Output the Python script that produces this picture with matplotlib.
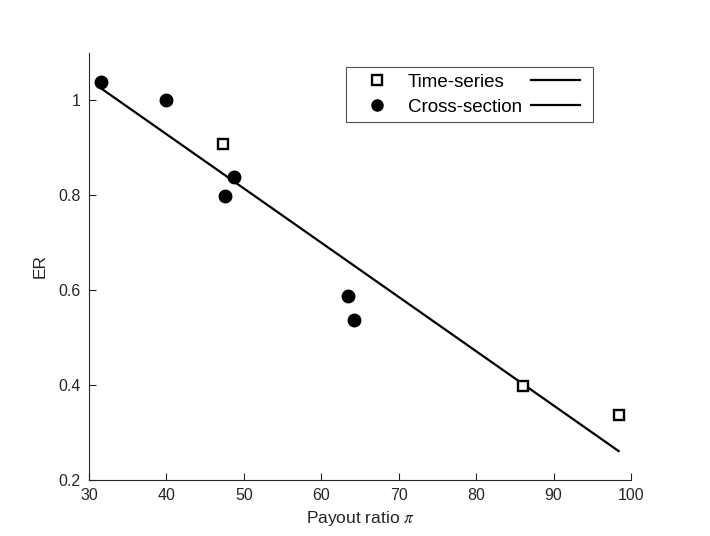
import matplotlib
matplotlib.use("Agg")
import matplotlib.pyplot as plt
from matplotlib.lines import Line2D

# Time-series observations (payout ratio, ER)
ts_x = [47.3, 86.1, 98.4]
ts_y = [0.909, 0.399, 0.338]

# Cross-section observations
cs_x = [31.6, 39.9, 47.5, 48.7, 63.4, 64.2]
cs_y = [1.039, 1.000, 0.799, 0.839, 0.588, 0.538]

# Fitted line endpoints
fit_x = [31.6, 98.4]
fit_y = [1.025, 0.261]

xticks = [30, 40, 50, 60, 70, 80, 90, 100]
yticks = [0.2, 0.4, 0.6, 0.8, 1.0]
yticklabels = ["0.2", "0.4", "0.6", "0.8", "1"]

plt.rcParams["font.family"] = ["Liberation Sans", "DejaVu Sans"]
plt.rcParams["mathtext.fontset"] = "stix"
AX = "#262626"

fig = plt.figure(figsize=(7.10, 5.36), dpi=100)
ax = fig.add_axes([89 / 710, 56 / 536, 542 / 710, 427 / 536])

ax.plot(fit_x, fit_y, color="black", lw=1.6, zorder=2)
ax.plot(ts_x, ts_y, ls="none", marker="s", ms=7.5, mfc="white", mec="black",
        mew=1.7, zorder=3)
ax.plot(cs_x, cs_y, ls="none", marker="o", ms=9, mfc="black", mec="black",
        zorder=3)

ax.set_xlim(30, 100)
ax.set_ylim(0.2, 1.1)
ax.set_xticks(xticks)
ax.set_yticks(yticks)
ax.set_yticklabels(yticklabels)
for s in ("top", "right"):
    ax.spines[s].set_visible(False)
for s in ("left", "bottom"):
    ax.spines[s].set_color(AX)
    ax.spines[s].set_linewidth(0.8)
ax.tick_params(direction="in", length=5, width=0.8, colors=AX, labelsize=11.5,
               pad=6)

ax.set_xlabel("Payout ratio $\\pi$", fontsize=12.5, color=AX, labelpad=4)
ax.set_ylabel("ER", fontsize=12.5, color=AX, labelpad=8)

handles = [
    Line2D([], [], ls="none", marker="s", ms=7, mfc="white", mec="black", mew=1.7),
    Line2D([], [], ls="none", marker="o", ms=8, mfc="black", mec="black"),
    Line2D([], [], color="black", lw=1.6),
    Line2D([], [], color="black", lw=1.6),
]
labels = ["Time-series", "Cross-section", "", ""]
leg = ax.legend(handles, labels, ncol=2, loc="upper left",
                bbox_to_anchor=((346 - 89) / 542, (480 - 67) / 427),
                fontsize=13.5, frameon=True, fancybox=False, edgecolor=AX,
                borderpad=0.35, handlelength=2.6, handletextpad=0.35,
                columnspacing=0.5, labelspacing=0.42, borderaxespad=0)
leg.get_frame().set_linewidth(0.8)

fig.savefig("out.png", dpi=100, facecolor="white")
